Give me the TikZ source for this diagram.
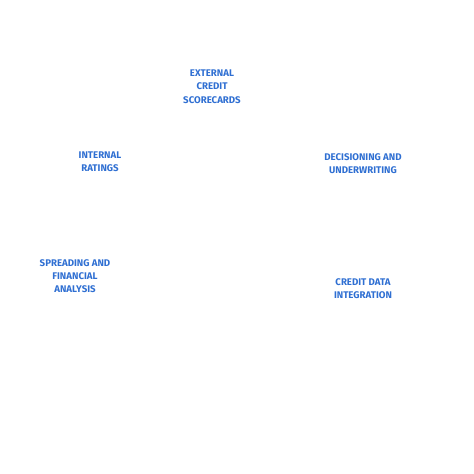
\documentclass[tikz,border=0pt]{standalone}
\usepackage{fontspec}
\setsansfont{Fira Sans}
\usepackage{tikz}
\definecolor{labelblue}{HTML}{2F6FD2}
\begin{document}
\begin{tikzpicture}
  [x=1bp,y=-1bp,
   lab/.style={align=center,text=labelblue,inner sep=0pt,
     font=\sffamily\bfseries\fontsize{9.7}{13.3}\selectfont}]
  \useasboundingbox (0,0) rectangle (474,474);
  % the five labels
  \node[lab] (ext) at (212,86.5) {EXTERNAL\\CREDIT\\SCORECARDS};
  \node[lab] (int) at (100,162) {INTERNAL\\RATINGS};
  \node[lab] (dec) at (363,164) {DECISIONING AND\\UNDERWRITING};
  \node[lab] (spr) at (75,276) {SPREADING AND\\FINANCIAL\\ANALYSIS};
  \node[lab] (cdi) at (363,289) {CREDIT DATA\\INTEGRATION};
\end{tikzpicture}
\end{document}
